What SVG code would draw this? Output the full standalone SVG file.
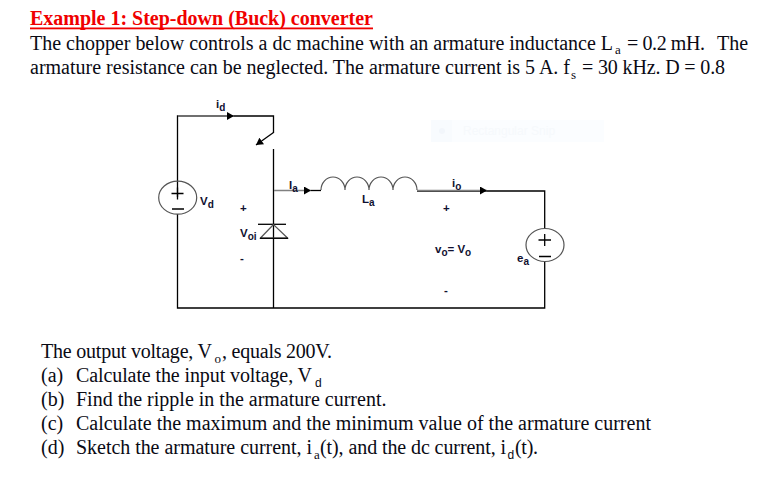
<svg xmlns="http://www.w3.org/2000/svg" width="774" height="492" viewBox="0 0 774 492">
<style>
.t{font-family:"Liberation Serif","Times New Roman",serif;font-size:20px;fill:#0a0a14}
.h{font-family:"Liberation Serif","Times New Roman",serif;font-size:20px;font-weight:bold;fill:#f00000}
.sub{font-size:13px}
.sd{font-family:"Liberation Sans",Arial,sans-serif;font-size:12px;fill:#0a0a14}
.l{font-family:"Liberation Sans",Arial,sans-serif;font-size:11.5px;font-weight:bold;fill:#101030}
.ls{font-size:10px}
.w{fill:none;stroke:#000;stroke-width:1.3}
.g{fill:none;stroke:#808080;stroke-width:1.6}
.e{fill:none;stroke:#555;stroke-width:1.2}
</style>
<defs>
<marker id="arrow" markerUnits="userSpaceOnUse" markerWidth="9" markerHeight="8" refX="7" refY="4" orient="auto"><path d="M0 0L7 4L0 8Z" fill="#000"/></marker>
</defs>
<rect width="774" height="492" fill="#fff"/>
<g id="snip-ghost">
<rect x="431" y="120" width="173" height="22" fill="#fbfdff"/>
<rect x="431" y="120" width="21" height="22" fill="#f8fbfe"/>
<circle cx="442" cy="131" r="3" fill="#f2f6fb"/>
<text x="463" y="135" font-family="Liberation Sans,sans-serif" font-size="12" fill="#f6f9fc">Rectangular Snip</text>
</g>
<g id="heading">
<text class="h" x="30" y="25" textLength="343" lengthAdjust="spacing">Example 1: Step-down (Buck) converter</text>
<rect x="30" y="27.5" width="343" height="1.8" fill="#f00000"/>
<text class="t" x="30" y="50" textLength="583" lengthAdjust="spacing">The chopper below controls a dc machine with an armature inductance L</text>
<text class="t sub" x="615" y="54">a</text>
<text class="t" x="627" y="50" textLength="78" lengthAdjust="spacing">= 0.2 mH.</text>
<text class="t" x="717" y="50">The</text>
<text class="t" x="30" y="74" textLength="540" lengthAdjust="spacing">armature resistance can be neglected. The armature current is 5 A. f</text>
<text class="t sub" x="571" y="79">s</text>
<text class="t" x="582" y="74" textLength="143" lengthAdjust="spacing">= 30 kHz. D = 0.8</text>
</g>
<g id="connectors">
<path class="w" d="M177.5 197V116H273.5V133"/>
<path class="w" d="M273.5 149V308"/>
<path class="w" d="M177.5 214V308H544.7V261"/>
<path class="w" d="M544.7 229V191H417"/>
<path class="g" d="M178 116H234" marker-end="url(#arrow)"/>
<path class="g" d="M274 190.5H311" marker-end="url(#arrow)"/>
<path class="w" d="M311 190.5H321"/>
<path class="g" d="M417 190.5H487" marker-end="url(#arrow)"/>
</g>
<g id="switch">
<path class="w" d="M273.5 132.5L256 145" marker-end="url(#arrow)"/>
</g>
<g id="source-vd">
<ellipse class="e" cx="177.7" cy="197.7" rx="19" ry="16.5" fill="#fff"/>
<path class="w" d="M171.5 193.5H183.5M177.5 187.5V199.5M172 209H184"/>
</g>
<g id="diode">
<path class="w" d="M258 224.3H286"/>
<path class="e" d="M273.5 224.5L260.5 238H287.5Z"/>
<path class="w" d="M260 238.3H288"/>
</g>
<g id="inductor">
<path class="e" d="M321 190A12 13 0 0 1 345 190A12 13 0 0 1 369 190A12 13 0 0 1 393 190A12 13 0 0 1 417 190"/>
</g>
<g id="source-ea">
<ellipse class="e" cx="545" cy="245" rx="19" ry="16.5" fill="#fff"/>
<path class="w" d="M538.5 240H551M544.7 234V246M539 256.5H551"/>
</g>
<g id="labels">
<text class="l" x="216" y="108">i<tspan class="ls" dy="3">d</tspan></text>
<text class="l" x="200" y="205">V<tspan class="ls" dy="3">d</tspan></text>
<text class="l" x="289" y="189">I<tspan class="ls" dy="3">a</tspan></text>
<text class="l" x="362" y="203">L<tspan class="ls" dy="3">a</tspan></text>
<text class="l" x="452" y="187">i<tspan class="ls" dy="3">o</tspan></text>
<text class="l" x="240" y="237">V<tspan class="ls" dy="3">oi</tspan></text>
<text class="l" x="435" y="253">v<tspan class="ls" dy="3">o</tspan><tspan dy="-3">= V</tspan><tspan class="ls" dy="3">o</tspan></text>
<text class="l" x="517" y="262">e<tspan class="ls" dy="3">a</tspan></text>
<text class="l" x="240" y="212">+</text>
<text class="l" x="443" y="212">+</text>
<text class="l" x="240" y="262">-</text>
<text class="l" x="444" y="294">-</text>
</g>
<g id="questions">
<text class="t" x="41" y="358" textLength="171" lengthAdjust="spacing">The output voltage, V</text>
<text class="t sub" x="214.5" y="363">o</text>
<text class="t" x="222" y="358" textLength="110" lengthAdjust="spacing">, equals 200V.</text>
<text class="t" x="41" y="382">(a)</text>
<text class="t" x="76" y="382" textLength="236" lengthAdjust="spacing">Calculate the input voltage, V</text>
<text class="sd" x="315" y="387">d</text>
<text class="t" x="41" y="406">(b)</text>
<text class="t" x="76" y="406">Find the ripple in the armature current.</text>
<text class="t" x="41" y="430">(c)</text>
<text class="t" x="76" y="430" textLength="575" lengthAdjust="spacing">Calculate the maximum and the minimum value of the armature current</text>
<text class="t" x="41" y="454">(d)</text>
<text class="t" x="76" y="454" textLength="236" lengthAdjust="spacing">Sketch the armature current, i</text>
<text class="t sub" x="314" y="459">a</text>
<text class="t" x="320" y="454" textLength="186" lengthAdjust="spacing">(t), and the dc current, i</text>
<text class="sd" x="507.5" y="459">d</text>
<text class="t" x="515" y="454" textLength="23" lengthAdjust="spacing">(t).</text>
</g>
</svg>
